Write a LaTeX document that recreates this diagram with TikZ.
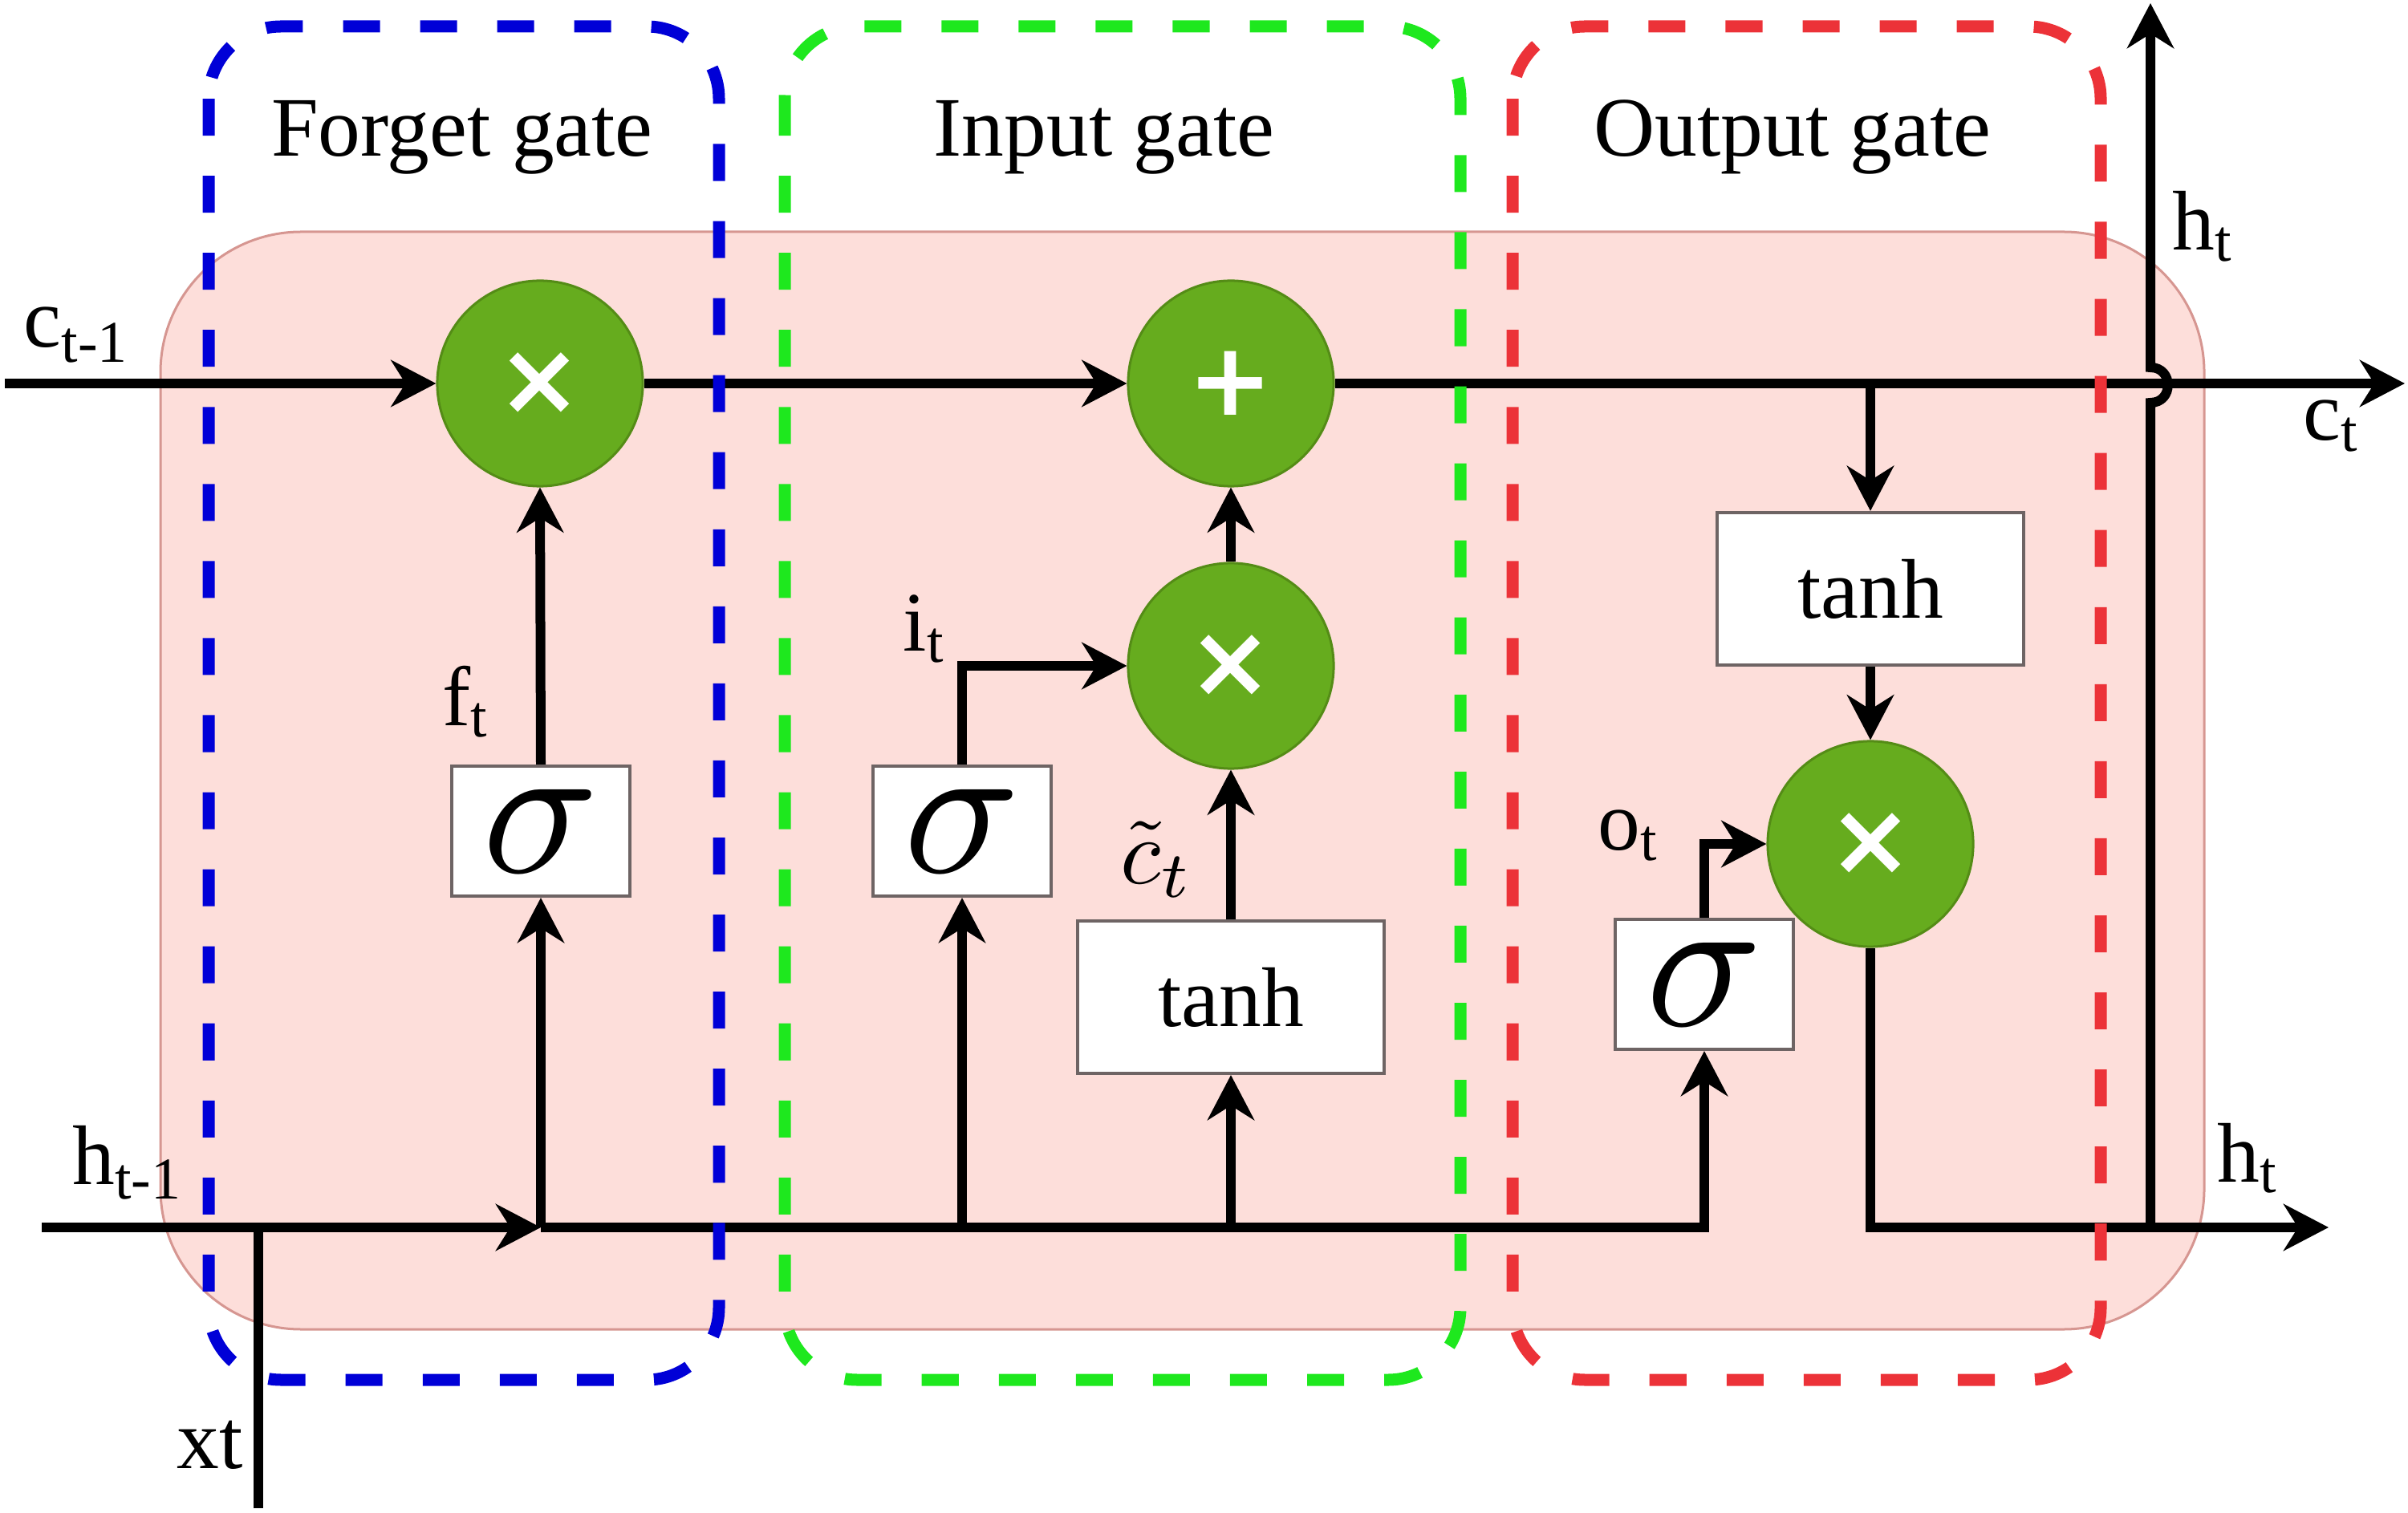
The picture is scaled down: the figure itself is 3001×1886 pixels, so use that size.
\documentclass[tikz,border=0pt]{standalone}
\usepackage{graphicx}
\usepackage{fontspec}
\setmainfont{Liberation Serif}
\newfontfamily\opfont{DejaVu Sans}
\usetikzlibrary{arrows.meta}
\definecolor{pinkfill}{RGB}{253,222,218}
\definecolor{pinkedge}{RGB}{214,150,145}
\definecolor{opgreen}{RGB}{102,172,30}
\definecolor{opgreenedge}{RGB}{84,140,22}
\definecolor{boxedge}{RGB}{110,100,100}
\definecolor{gblue}{RGB}{0,0,215}
\definecolor{ggreen}{RGB}{30,232,30}
\definecolor{gred}{RGB}{236,50,56}
\newcommand{\sigmasym}{\fontsize{10}{12}\selectfont\scalebox{6.8}{$\sigma$}}
\newcommand{\ctilde}{\fontsize{10}{12}\selectfont\scalebox{3.3}{$\tilde{c}_t$}}
\begin{document}
\begin{tikzpicture}[x=0.01cm, y=-0.01cm,
  gatecirc/.style={circle, fill=opgreen, draw=opgreenedge, line width=0.03cm,
    minimum size=2.56cm, inner sep=0pt, text=white,
    font=\opfont\bfseries\fontsize{36}{40}\selectfont},
  fnbox/.style={rectangle, fill=white, draw=boxedge, line width=0.04cm, inner sep=0pt,
    font=\fontsize{30}{36}\selectfont},
  sigbox/.style={fnbox, minimum width=2.22cm, minimum height=1.62cm},
  tanhbox/.style={fnbox, minimum width=3.82cm, minimum height=1.9cm},
  wire/.style={line width=0.12cm},
  arr/.style={wire, -{Stealth[length=0.56cm, width=0.58cm, inset=0.18cm]}},
  lbl/.style={inner sep=0pt, font=\fontsize{30}{36}\selectfont},
  gatebox/.style={dash pattern=on 0.46cm off 0.5cm, line width=0.15cm, rounded corners=0.9cm}
]
\useasboundingbox (0,0) rectangle (3001,1886);
% cell background
\path[fill=pinkfill, draw=pinkedge, line width=0.03cm, rounded corners=1.75cm] (200,289) rectangle (2747,1657);

% operation nodes
\node[gatecirc] (fx) at (673,478) {×};
\node[gatecirc] (pl) at (1534,478) {+};
\node[gatecirc] (ix) at (1534,830) {×};
\node[gatecirc] (ox) at (2331,1052) {×};
\node[sigbox] (fs) at (674,1036) {\sigmasym};
\node[sigbox] (is) at (1199,1036) {\sigmasym};
\node[sigbox] (os) at (2124,1227) {\sigmasym};
\node[tanhbox] (it) at (1534,1243) {tanh};
\node[tanhbox] (ot) at (2331,734) {tanh};

% free ends
\coordinate (cin) at (6,478);
\coordinate (cout) at (2997,478);
\coordinate (tb) at (2331,478);
\coordinate (hin) at (52,1530);
\coordinate (jf) at (674,1530);
\coordinate (xin) at (322,1880);
\coordinate (hj) at (2680,1530);
\coordinate (hout) at (2902,1530);
\coordinate (hopA) at (2680,502);
\coordinate (hopB) at (2680,458);
\coordinate (htop) at (2680,4);

% cell state line
\draw[arr] (cin) -- (fx.west);
\draw[arr] (fx.east) -- (pl.west);
\draw[arr] (pl.east) -- (cout);
\draw[arr] (tb) -- (ot.north);
\draw[arr] (ot.south) -- (ox.north);
% gates
\draw[arr] (fs.north) -- (fx.south);
\draw[arr] (is.north) |- (ix.west);
\draw[arr] (it.north) -- (ix.south);
\draw[arr] (ix.north) -- (pl.south);
\draw[arr] (os.north) |- (ox.west);
% hidden input line
\draw[arr] (hin) -- (jf);
\draw[arr] (jf) -- (fs.south);
\draw[arr] (jf) -| (os.south);
\draw[arr] (is.south |- jf) -- (is.south);
\draw[arr] (it.south |- jf) -- (it.south);
\draw[wire] (xin) -- (xin |- jf);
% output
\draw[arr] (ox.south) |- (hout);
\draw[arr] (hj) -- (hopA) .. controls (2709,502) and (2709,458) .. (hopB) -- (htop);

% labels
\node[lbl, anchor=base west] (lct) at (29,433) {c\textsubscript{t-1}};
\node[lbl, anchor=base west] (lht1) at (90,1476) {h\textsubscript{t-1}};
\node[lbl, anchor=base west] (lxt) at (220,1830) {xt};
\node[lbl, anchor=base west] (lhtt) at (2707,312) {h\textsubscript{t}};
\node[lbl, anchor=base west] (lctr) at (2870,549) {c\textsubscript{t}};
\node[lbl, anchor=base west] (lhtb) at (2763,1473) {h\textsubscript{t}};
\node[lbl, anchor=base west] (lft) at (551,905) {f\textsubscript{t}};
\node[lbl, anchor=base west] (lit) at (1125,812) {i\textsubscript{t}};
\node[lbl, anchor=base west] (lot) at (1991,1059) {o\textsubscript{t}};
\node[lbl, anchor=base west] (lctil) at (1396,1101) {\ctilde};

% gate titles
\node[lbl, anchor=base] (tf) at (576,195) {Forget gate};
\node[lbl, anchor=base] (ti) at (1376,195) {Input gate};
\node[lbl, anchor=base] (to) at (2234,195) {Output gate};

% gate regions
\draw[gatebox, gblue] (260,33) rectangle (896,1720);
\draw[gatebox, ggreen] (978,33) rectangle (1820,1720);
\draw[gatebox, gred] (1885,33) rectangle (2618,1720);
\end{tikzpicture}
\end{document}
